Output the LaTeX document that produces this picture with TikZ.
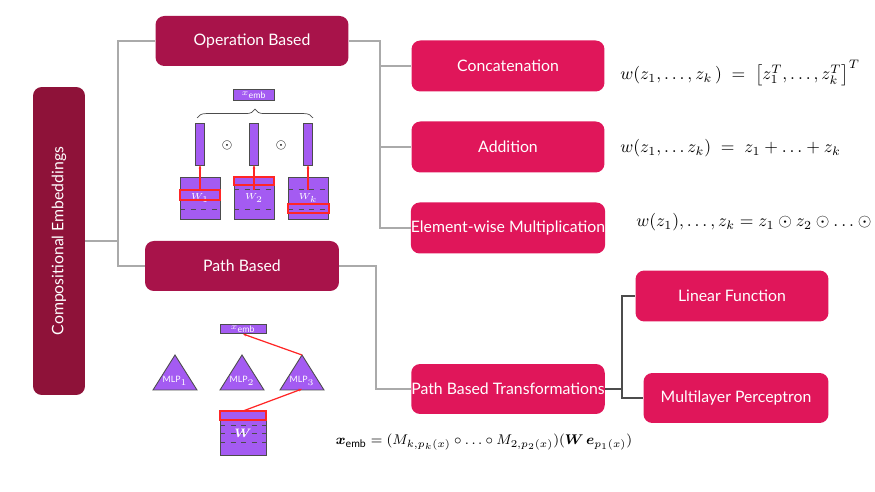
\documentclass[tikz,border=0pt]{standalone}
\usepackage{amsmath,amssymb,bm}
\usepackage{fontspec}
\setmainfont{Lato}
\usetikzlibrary{decorations.pathreplacing,shapes.geometric,arrows.meta}
\definecolor{dark}{HTML}{8E1239}
\definecolor{mid}{HTML}{A8134A}
\definecolor{hot}{HTML}{E0165A}
\definecolor{purp}{HTML}{A45BF2}
\definecolor{conn}{HTML}{AAAAAA}
\begin{document}
\begin{tikzpicture}[x=0.02cm,y=-0.02cm,
  box/.style={rounded corners=5pt,text=white,font=\small,inner sep=0pt},
  line/.style={draw=conn,line width=0.6pt},
  dline/.style={draw=black!70,line width=0.6pt},
  pbox/.style={draw=black!70,fill=purp,line width=0.5pt},
  red/.style={draw=red!85,line width=0.7pt},
  mathf/.style={font=\normalsize,inner sep=0pt}]
\useasboundingbox (0,0) rectangle (875,492);
% boxes
\node[box,fill=dark,minimum width=1.04cm,minimum height=6.16cm] (ce) at (59,241) {};
\node[text=white,rotate=90,font=\small] at (ce) {Compositional Embeddings};
\node[box,fill=mid,minimum width=3.86cm,minimum height=1cm] (op) at (252,41) {Operation Based};
\node[box,fill=mid,minimum width=3.88cm,minimum height=1cm] (pb) at (242,266) {Path Based};
\node[box,fill=hot,minimum width=3.86cm,minimum height=1.02cm] (cat) at (508,66) {Concatenation};
\node[box,fill=hot,minimum width=3.86cm,minimum height=1.02cm] (add) at (508,147) {Addition};
\node[box,fill=hot,minimum width=3.86cm,minimum height=1.02cm] (ew) at (508,228) {Element-wise Multiplication};
\node[box,fill=hot,minimum width=3.86cm,minimum height=1cm] (pbt) at (508,389) {Path Based Transformations};
\node[box,fill=hot,minimum width=3.86cm,minimum height=1.02cm] (lf) at (732,296) {Linear Function};
\node[box,fill=hot,minimum width=3.7cm,minimum height=1cm] (mlp) at (736,398) {Multilayer Perceptron};
% connectors
\coordinate (j1) at (118,241);
\draw[line] (ce.east) -- (j1) |- (op.west);
\draw[line] (j1) |- (pb.west);
\draw[line] (op.east) -| (380,66) |- (ew.west);
\draw[line] (380,66) -- (cat.west);
\draw[line] (380,147) -- (add.west);
\draw[line] (pb.east) -| (376,389) -- (pbt.west);
\draw[dline] (pbt.east) -- (622,389) |- (lf.west);
\draw[dline] (622,389) |- (mlp.west);
% formulas
\node[mathf,anchor=west] (f1) at (620,73) {$w(z_1,\ldots,z_k\,)\;=\;\bigl[z_1^T,\ldots,z_k^T\bigr]^T$};
\node[mathf,anchor=west] (f2) at (620,148) {$w(z_1,\ldots z_k)\;=\;z_1+\ldots+z_k$};
\node[mathf,anchor=west] (f3) at (636,222) {$w(z_1),\ldots,z_k=z_1\odot z_2\odot\ldots\odot z_k$};
\node[font=\footnotesize] (f4) at (484,442) {$\bm{x}_{\mathrm{emb}}=(M_{k,p_k(x)}\circ\ldots\circ M_{2,p_2(x)})(\bm{W}\,\bm{e}_{p_1(x)})$};
% operation inset
\node[pbox,minimum width=0.82cm,minimum height=0.22cm,inner sep=0pt,text=white,font=\tiny] (xe1) at (254,95) {$x_{\mathrm{emb}}$};
\draw[black!70,decorate,decoration={brace,amplitude=5pt}] (197,118) -- (313,118);
\foreach \x/\l in {200/1, 254/2, 308/k}{
  \draw[pbox] (\x-4.5,123) rectangle (\x+4.5,165);
  \draw[pbox] (\x-20,177) rectangle (\x+20,219);
  \foreach \yy in {189,209} \draw[black!70,dashed,line width=0.4pt] (\x-20,\yy) -- (\x+20,\yy);
  \node[text=white,font=\tiny] at (\x,198) {$W_{\l}$};
}
\draw[red] (180,190) rectangle (220,200);
\draw[red] (234,177) rectangle (274,185);
\draw[red] (288,204) rectangle (329,213);
\foreach \x in {200,254,308} \draw[red,-{Stealth[length=2pt]}] (\x,190) -- (\x,165);
\node[font=\scriptsize] at (227,145) {$\odot$};
\node[font=\scriptsize] at (281,145) {$\odot$};
% path inset
\node[pbox,minimum width=0.92cm,minimum height=0.18cm,inner sep=0pt,text=white,font=\tiny] (xe2) at (243,329) {$x_{\mathrm{emb}}$};
\foreach \x/\i in {175/1,242/2,302/3}{
  \draw[pbox] (\x-22,390) -- (\x,355) -- (\x+22,390) -- cycle;
  \node[text=white,font=\tiny] (m\i) at (\x,381) {MLP$_\i$};
}
\draw[pbox] (220,411) rectangle (266,455);
\foreach \yy in {425,433,442} \draw[black!70,dashed,line width=0.4pt] (220,\yy) -- (266,\yy);
\node[text=white,font=\scriptsize] at (243,433) {$\bm W$};
\draw[red] (220,411) rectangle (266,420);
\draw[red,-{Stealth[length=2pt]}] (243,411) -- (302,389);
\draw[red,-{Stealth[length=2pt]}] (302,355) -- (243,334);
\end{tikzpicture}
\end{document}
